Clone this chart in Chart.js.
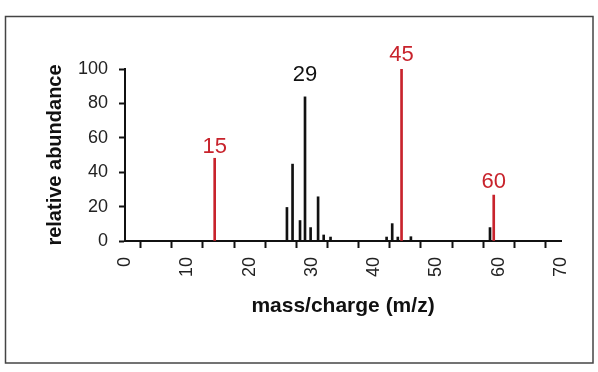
<!DOCTYPE html>
<html lang="en">
<head>
  <meta charset="UTF-8">
  <title>Mass spectrum</title>
  <script src="https://cdn.jsdelivr.net/npm/chart.js"></script>
  <style>
    html, body { margin: 0; padding: 0; background: #fff; }
    #wrap { width: 598px; height: 372px; }
  </style>
</head>
<body>
  <div id="wrap"><canvas id="spectrum" width="598" height="372"></canvas></div>

  <script>
    // peaks (m/z position, relative abundance)
    const blackMz = [26, 26.9, 28.1, 28.9, 29.8, 31, 31.9, 33, 42, 42.9, 43.8, 45.9, 58.6];
    const blackAbund = [19.5, 44.7, 11.9, 83.8, 7.8, 25.7, 3.5, 2.3, 2.3, 10.1, 2.3, 2.5, 7.8];
    const redMz = [14.4, 44.4, 59.2];
    const redAbund = [48.1, 100, 26.7];

    // peak labels: text, m/z, baseline height (abundance units)
    const peakText = ['15', '29', '45', '60'];
    const peakMz = [14.4, 28.9, 44.4, 59.2];
    const peakY = [51.3, 92.8, 104.6, 30.9];
    const peakColor = ['#c8232c', '#111', '#c8232c', '#c8232c'];

    const FONT = "'Liberation Sans', Arial, sans-serif";

    const framePlugin = {
      id: 'frame',
      beforeDraw(chart) {
        const ctx = chart.ctx;
        ctx.save();
        ctx.fillStyle = '#fff';
        ctx.fillRect(0, 0, chart.width, chart.height);
        ctx.strokeStyle = '#444';
        ctx.lineWidth = 1.5;
        ctx.strokeRect(5.5, 16.5, 587.5, 346.5);
        ctx.restore();
      }
    };

    const labelPlugin = {
      id: 'peakLabels',
      afterDatasetsDraw(chart) {
        const ctx = chart.ctx;
        const xs = chart.scales.x, ys = chart.scales.y;
        ctx.save();
        ctx.font = '22px ' + FONT;
        ctx.textAlign = 'center';
        ctx.textBaseline = 'alphabetic';
        peakText.forEach((t, i) => {
          ctx.fillStyle = peakColor[i];
          ctx.fillText(t, xs.getPixelForValue(peakMz[i]), ys.getPixelForValue(peakY[i]));
        });
        ctx.restore();
      }
    };

    const toPoints = (xs, ys) => xs.map((x, i) => ({ x: x, y: ys[i] }));

    new Chart(document.getElementById('spectrum'), {
      type: 'bar',
      data: {
        datasets: [
          { data: toPoints(blackMz, blackAbund), backgroundColor: '#111', barThickness: 2 },
          { data: toPoints(redMz, redAbund), backgroundColor: '#c8232c', barThickness: 2 }
        ]
      },
      options: {
        responsive: false,
        animation: false,
        grouped: false,
        layout: { padding: { top: 69, right: 37, left: 0, bottom: 0 } },
        plugins: { legend: { display: false }, tooltip: { enabled: false } },
        scales: {
          x: {
            type: 'linear',
            min: 0,
            max: 70,
            offset: false,
            afterFit: s => { s.height = 131; },
            border: { display: true, color: '#111', width: 2 },
            grid: { drawOnChartArea: false, drawTicks: true, tickLength: 7, tickColor: '#111', tickWidth: 2 },
            ticks: {
              stepSize: 5,
              autoSkip: false,
              minRotation: 90,
              maxRotation: 90,
              padding: 9,
              color: '#222',
              font: { family: FONT, size: 18 },
              callback: v => (v % 10 === 0 ? v : '')
            },
            title: {
              display: true,
              text: 'mass/charge (m/z)',
              color: '#111',
              font: { family: FONT, size: 21, weight: 'bold' },
              padding: { top: 0, bottom: 53 }
            }
          },
          y: {
            min: 0,
            max: 100,
            afterFit: s => { s.width = 125; },
            border: { display: true, color: '#111', width: 2 },
            grid: { drawOnChartArea: false, drawTicks: true, tickLength: 6, tickColor: '#111', tickWidth: 2 },
            ticks: {
              stepSize: 20,
              padding: 11,
              color: '#222',
              font: { family: FONT, size: 18 }
            },
            title: {
              display: true,
              text: 'relative abundance',
              color: '#111',
              font: { family: FONT, size: 20, weight: 'bold' },
              padding: { top: 43, bottom: 0 }
            }
          }
        }
      },
      plugins: [framePlugin, labelPlugin]
    });
  </script>
</body>
</html>
